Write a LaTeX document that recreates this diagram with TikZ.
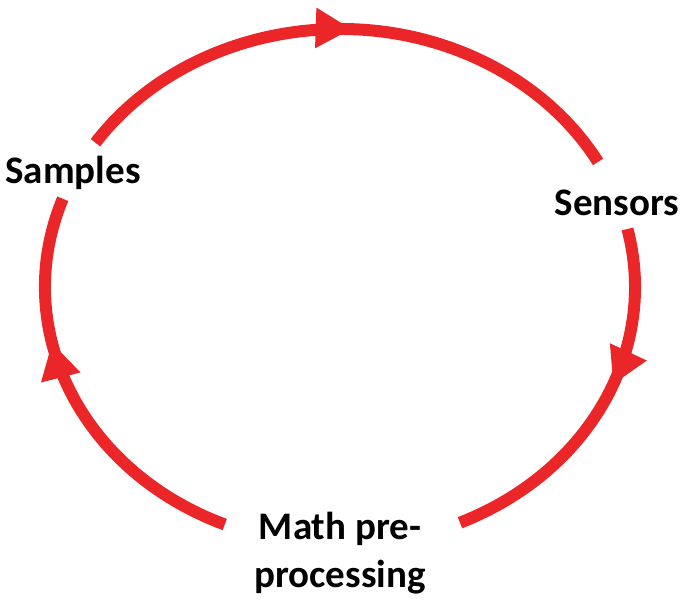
\documentclass[tikz,border=0pt]{standalone}
\usepackage{fontspec}
\setmainfont{Carlito}
\usetikzlibrary{arrows.meta,decorations.markings}
\definecolor{cred}{RGB}{234,38,41}
\tikzset{
 ring/.style={draw=cred,line width=12pt},
 tip/.style={postaction={decorate},decoration={markings,mark=at position #1 with {\arrow[cred]{Triangle[width=38pt,length=36pt]}}}},
 lbl/.style={font=\fontsize{39}{48}\selectfont\bfseries,align=center}
}
\begin{document}
\begin{tikzpicture}[x=1pt,y=1pt]
\useasboundingbox (0,0) rectangle (685,603);
\coordinate (c) at (340,316);
\draw[ring,tip=0.5] (c) ++(146:295 and 258) arc[start angle=146,end angle=29,x radius=295,y radius=258];
\draw[ring,tip=0.43] (c) ++(13:295 and 258) arc[start angle=13,end angle=-66,x radius=295,y radius=258];
\draw[ring,tip=0.64] (c) ++(-113:295 and 258) arc[start angle=-113,end angle=-200,x radius=295,y radius=258];
\node[lbl] (s) at (73,430) {Samples};
\node[lbl] (n) at (617,400) {Sensors};
\node[lbl] (m) at (340,50) {Math pre-\\processing};
\end{tikzpicture}
\end{document}
